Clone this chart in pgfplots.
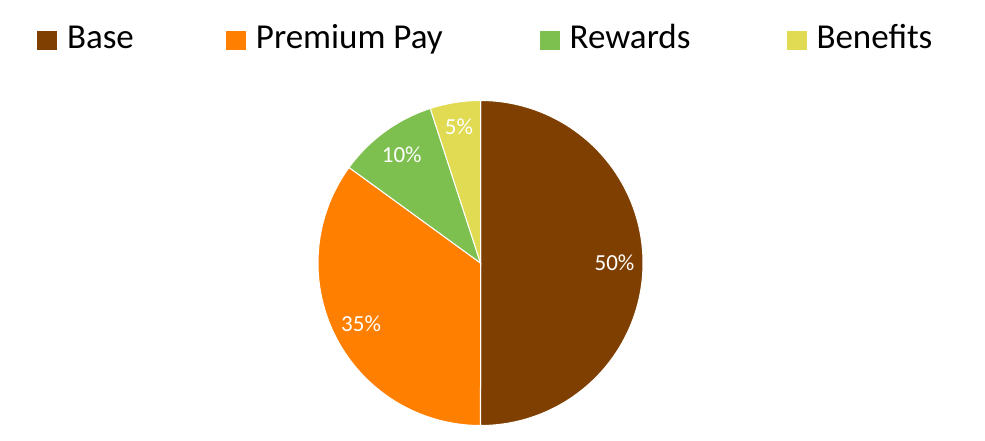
\documentclass[border=0pt]{standalone}
\usepackage{pgfplots}
\usepackage{pgfplotstable}
\pgfplotsset{compat=1.18}
\usepackage{fontspec}
\setmainfont{Carlito}
\definecolor{cBase}{RGB}{127,63,0}
\definecolor{cPrem}{RGB}{255,128,0}
\definecolor{cRew}{RGB}{126,192,80}
\definecolor{cBen}{RGB}{224,219,82}
\pgfplotstableread{
name value
Base 50
Premium 35
Rewards 10
Benefits 5
}\pietable
\pgfplotstablegetelem{0}{value}\of\pietable\edef\vA{\pgfplotsretval}
\pgfplotstablegetelem{1}{value}\of\pietable\edef\vB{\pgfplotsretval}
\pgfplotstablegetelem{2}{value}\of\pietable\edef\vC{\pgfplotsretval}
\pgfplotstablegetelem{3}{value}\of\pietable\edef\vD{\pgfplotsretval}
\pgfmathsetmacro\sA{90}
\pgfmathsetmacro\eA{\sA-3.6*\vA}
\pgfmathsetmacro\eB{\eA-3.6*\vB}
\pgfmathsetmacro\eC{\eB-3.6*\vC}
\pgfmathsetmacro\eD{\eC-3.6*\vD}
\def\cx{480.5}\def\cy{177}\def\R{162.5}\def\rl{134}
\pgfmathsetmacro\xA{\cx+\rl*cos((\sA+\eA)/2)}\pgfmathsetmacro\yA{\cy+\rl*sin((\sA+\eA)/2)}
\pgfmathsetmacro\xB{\cx+\rl*cos((\eA+\eB)/2)}\pgfmathsetmacro\yB{\cy+\rl*sin((\eA+\eB)/2)}
\pgfmathsetmacro\xC{\cx+\rl*cos((\eB+\eC)/2)}\pgfmathsetmacro\yC{\cy+\rl*sin((\eB+\eC)/2)}
\pgfmathsetmacro\xD{\cx+138*cos((\eC+\eD)/2)}\pgfmathsetmacro\yD{\cy+138*sin((\eC+\eD)/2)}
\begin{document}
\begin{tikzpicture}
\useasboundingbox (0,0) rectangle (985pt,440pt);
\begin{axis}[
  at={(0,0)}, anchor=south west,
  scale only axis, width=985pt, height=440pt,
  xmin=0, xmax=985, ymin=0, ymax=440,
  hide axis, clip=false,
  area legend,
  legend image code/.code={\fill[#1,draw=none] (0pt,-13pt) rectangle (20pt,6pt);},
  legend columns=4,
  legend style={at={(axis cs:37,390)}, anchor=south west, draw=none, fill=none,
    inner sep=0pt, outer sep=0pt,
    font=\fontsize{35}{42}\selectfont,
    nodes={inner sep=0pt, text height=24pt, text depth=0pt},
    /tikz/every odd column/.append style={column sep=10pt},
    /tikz/column 2/.append style={column sep=92pt},
    /tikz/column 4/.append style={column sep=97pt},
    /tikz/column 6/.append style={column sep=96pt}},
]
\addplot[fill=cBase, draw=white, line width=1pt, domain=\eA:\sA, samples=120]
  ({\cx+\R*cos(x)},{\cy+\R*sin(x)}) -- (\cx,\cy) -- cycle;
\addlegendentry{Base}
\addplot[fill=cPrem, draw=white, line width=1pt, domain=\eB:\eA, samples=90]
  ({\cx+\R*cos(x)},{\cy+\R*sin(x)}) -- (\cx,\cy) -- cycle;
\addlegendentry{Premium Pay}
\addplot[fill=cRew, draw=white, line width=1pt, domain=\eC:\eB, samples=30]
  ({\cx+\R*cos(x)},{\cy+\R*sin(x)}) -- (\cx,\cy) -- cycle;
\addlegendentry{Rewards}
\addplot[fill=cBen, draw=white, line width=1pt, domain=\eD:\eC, samples=20]
  ({\cx+\R*cos(x)},{\cy+\R*sin(x)}) -- (\cx,\cy) -- cycle;
\addlegendentry{Benefits}
\node[text=white, font=\fontsize{23}{27}\selectfont] at (\xA,\yA) {\vA\%};
\node[text=white, font=\fontsize{23}{27}\selectfont] at (\xB,\yB) {\vB\%};
\node[text=white, font=\fontsize{23}{27}\selectfont] at (\xC,\yC) {\vC\%};
\node[text=white, font=\fontsize{23}{27}\selectfont] at (\xD,\yD) {\vD\%};
\end{axis}
\end{tikzpicture}
\end{document}
